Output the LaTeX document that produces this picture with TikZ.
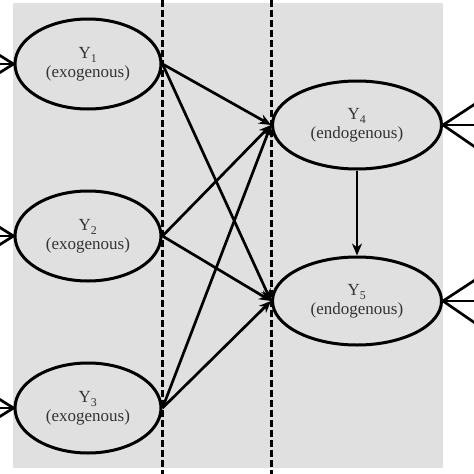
\documentclass[tikz,border=0pt]{standalone}
\usepackage{fontspec}
\setmainfont{Liberation Serif}
\usetikzlibrary{arrows.meta,shapes.geometric}
\definecolor{bg}{gray}{0.88}
\definecolor{txt}{gray}{0.2}
\tikzset{
  ell/.style={ellipse, draw=black, line width=3pt, fill=bg, inner sep=0pt,
    align=center, text=txt, font=\fontsize{17}{19}\selectfont},
  exo/.style={ell, minimum width=146pt, minimum height=90pt},
  endo/.style={ell, minimum width=169pt, minimum height=88pt},
  conn/.style={line width=2.7pt, -{Stealth[length=12pt,width=10pt]}},
  errl/.style={line width=2.7pt},
  divider/.style={line width=3pt, dash pattern=on 7pt off 3pt}
}
\begin{document}
\begin{tikzpicture}[x=1pt,y=-1pt]
\useasboundingbox (0,0) rectangle (474,474);
\clip (0,0) rectangle (474,474);
\fill[bg] (13,3) rectangle (443,468);
\draw[divider] (162,0) -- (162,474);
\draw[divider] (271,0) -- (271,474);
\node[exo] (y1) at (88,64) {Y\textsubscript{\raisebox{-1.5pt}{1}}\\(exogenous)};
\node[exo] (y2) at (88,236) {Y\textsubscript{\raisebox{-1.5pt}{2}}\\(exogenous)};
\node[exo] (y3) at (88,408) {Y\textsubscript{\raisebox{-1.5pt}{3}}\\(exogenous)};
\node[endo] (y4) at (357,125) {Y\textsubscript{\raisebox{-1.5pt}{4}}\\(endogenous)};
\node[endo] (y5) at (357,301) {Y\textsubscript{\raisebox{-1.5pt}{5}}\\(endogenous)};
\foreach \s in {y1,y2,y3}{
  \draw[conn] (\s.east) -- (y4.west);
  \draw[conn] (\s.east) -- (y5.west);
}
\draw[conn] (y4.south) -- (y5.north);
% error-term lines entering from outside the crop
\foreach \s in {y1,y2,y3}{
  \coordinate (\s a) at ([shift={(-32,-20)}]\s.west);
  \coordinate (\s b) at ([shift={(-32,0)}]\s.west);
  \coordinate (\s c) at ([shift={(-32,20)}]\s.west);
  \draw[errl] (\s a) -- (\s.west) -- (\s c);
  \draw[errl] (\s b) -- (\s.west);
}
\foreach \s in {y4,y5}{
  \coordinate (\s a) at ([shift={(32,-21)}]\s.east);
  \coordinate (\s b) at ([shift={(32,0)}]\s.east);
  \coordinate (\s c) at ([shift={(32,22)}]\s.east);
  \draw[errl] (\s a) -- (\s.east) -- (\s c);
  \draw[errl] (\s b) -- (\s.east);
}
\end{tikzpicture}
\end{document}
